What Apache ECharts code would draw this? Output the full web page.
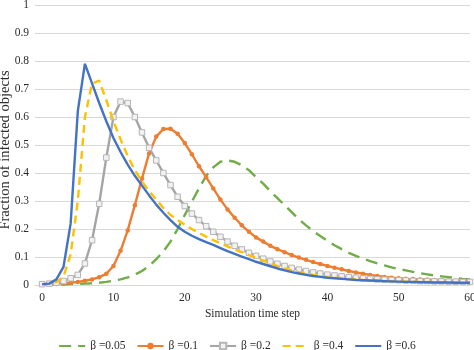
<!DOCTYPE html>
<html>
<head>
<meta charset="utf-8">
<script src="https://cdn.jsdelivr.net/npm/echarts@6/dist/echarts.min.js"></script>
<style>
html,body{margin:0;padding:0;background:#fff;}
#chart{width:474px;height:350px;}
</style>
</head>
<body>
<div id="chart"></div>
<script>
// Fraction of infected objects per simulation time step (0..60)
const seriesNames = ["β =0.05", "β =0.1", "β =0.2", "β =0.4", "β =0.6"];
const xTicks = [0, 10, 20, 30, 40, 50, 60];
const yTicks = [0, 0.1, 0.2, 0.3, 0.4, 0.5, 0.6, 0.7, 0.8, 0.9, 1];

const beta005 = [0.001,0.001,0.002,0.002,0.003,0.004,0.005,0.006,0.008,0.011,
  0.015,0.02,0.027,0.037,0.05,0.068,0.092,0.12,0.155,0.2,
  0.25,0.298,0.345,0.39,0.42,0.44,0.445,0.44,0.428,0.41,
  0.385,0.362,0.335,0.31,0.285,0.26,0.235,0.213,0.193,0.175,
  0.158,0.142,0.128,0.115,0.104,0.094,0.085,0.077,0.07,0.063,
  0.057,0.052,0.047,0.042,0.038,0.034,0.031,0.028,0.025,0.022,0.02];

const beta01 = [0.002,0.003,0.004,0.006,0.008,0.011,0.015,0.02,0.028,0.04,
  0.068,0.122,0.195,0.285,0.38,0.47,0.53,0.557,0.558,0.54,
  0.507,0.467,0.424,0.385,0.345,0.305,0.27,0.24,0.213,0.19,
  0.17,0.155,0.14,0.128,0.117,0.107,0.098,0.09,0.082,0.075,
  0.068,0.062,0.056,0.05,0.045,0.04,0.036,0.032,0.029,0.026,
  0.024,0.022,0.021,0.02,0.019,0.018,0.017,0.016,0.015,0.014,0.014];

const beta02 = [0.003,0.005,0.008,0.014,0.024,0.036,0.077,0.16,0.29,0.455,
  0.6,0.655,0.65,0.6,0.545,0.49,0.445,0.4,0.357,0.315,
  0.282,0.255,0.232,0.21,0.19,0.172,0.155,0.14,0.127,0.115,
  0.104,0.094,0.084,0.076,0.068,0.061,0.055,0.05,0.045,0.041,
  0.037,0.034,0.031,0.028,0.026,0.024,0.022,0.02,0.019,0.018,
  0.017,0.016,0.015,0.014,0.014,0.013,0.013,0.012,0.012,0.011,0.011];

const beta04 = [0.002,0.004,0.01,0.03,0.11,0.3,0.6,0.72,0.73,0.66,
  0.585,0.52,0.46,0.41,0.37,0.335,0.305,0.275,0.25,0.232,
  0.215,0.2,0.186,0.173,0.16,0.149,0.138,0.127,0.117,0.107,
  0.097,0.087,0.077,0.067,0.059,0.052,0.046,0.041,0.036,0.032,
  0.029,0.026,0.024,0.022,0.02,0.018,0.017,0.016,0.015,0.014,
  0.013,0.012,0.012,0.011,0.011,0.01,0.01,0.01,0.009,0.009,0.009];

const beta06 = [0.003,0.005,0.02,0.065,0.22,0.62,0.79,0.72,0.65,0.585,
  0.525,0.475,0.43,0.39,0.355,0.32,0.287,0.258,0.232,0.208,
  0.19,0.176,0.164,0.153,0.143,0.132,0.121,0.111,0.101,0.092,
  0.083,0.075,0.067,0.059,0.052,0.046,0.041,0.036,0.032,0.029,
  0.026,0.024,0.022,0.02,0.018,0.017,0.016,0.015,0.014,0.013,
  0.012,0.011,0.011,0.01,0.01,0.009,0.009,0.009,0.008,0.008,0.008];

const toPairs = arr => arr.map((v, i) => [i, v]);

const FONT = "Liberation Serif";
const TXT = "#2b2b2b";
const FS = 11.5;
const noMarker = {color: 'rgba(0,0,0,0)', borderWidth: 0};

const chart = echarts.init(document.getElementById('chart'), null, {renderer: 'canvas'});
chart.setOption({
  animation: false,
  backgroundColor: '#fff',
  grid: {left: 35, right: 4, top: 5, bottom: 65, outerBoundsMode: 'none', containLabel: false},
  legend: {
    top: 335,
    left: 'center',
    itemGap: 11,
    itemWidth: 26,
    itemHeight: 8,
    textStyle: {fontFamily: FONT, fontSize: FS, color: TXT},
    data: [
      {name: seriesNames[0], itemStyle: noMarker},
      {name: seriesNames[1]},
      {name: seriesNames[2]},
      {name: seriesNames[3], itemStyle: noMarker},
      {name: seriesNames[4], itemStyle: noMarker}
    ]
  },
  xAxis: {
    type: 'value',
    min: -1, max: xTicks[xTicks.length - 1],
    name: 'Simulation time step',
    nameLocation: 'middle',
    nameGap: 23,
    nameMoveOverlap: false,
    nameTextStyle: {fontFamily: FONT, fontSize: FS, color: TXT},
    axisLine: {show: true, lineStyle: {color: '#D9D9D9', width: 1}},
    axisTick: {show: false},
    splitLine: {show: false},
    axisLabel: {fontFamily: FONT, fontSize: FS, color: TXT, margin: 7,
      customValues: xTicks, showMinLabel: true, showMaxLabel: true}
  },
  yAxis: {
    type: 'value',
    min: yTicks[0], max: yTicks[yTicks.length - 1], interval: 0.1,
    name: 'Fraction of infected objects',
    nameLocation: 'middle',
    nameGap: 22,
    nameMoveOverlap: false,
    nameTextStyle: {fontFamily: FONT, fontSize: 14.5, color: TXT, padding: [0, 10, 0, 0]},
    axisLine: {show: false},
    axisTick: {show: false},
    splitLine: {lineStyle: {color: '#D9D9D9', width: 1}},
    axisLabel: {fontFamily: FONT, fontSize: FS, color: TXT, margin: 6,
      formatter: v => String(Math.round(v * 10) / 10)}
  },
  series: [
    {name: seriesNames[0], type: 'line', data: toPairs(beta005), showSymbol: false, symbol: 'none',
     lineStyle: {color: '#70AD47', width: 2.4, type: [12, 7]}, itemStyle: {color: '#70AD47'}, z: 2},
    {name: seriesNames[1], type: 'line', data: toPairs(beta01), symbol: 'circle', symbolSize: 4.5,
     lineStyle: {color: '#ED7D31', width: 2.4}, itemStyle: {color: '#ED7D31'}, z: 3},
    {name: seriesNames[2], type: 'line', data: toPairs(beta02), symbol: 'rect', symbolSize: 5.5,
     lineStyle: {color: '#A5A5A5', width: 2.4},
     itemStyle: {color: '#F2F2F2', borderColor: '#B5B5B5', borderWidth: 1}, z: 4},
    {name: seriesNames[3], type: 'line', data: toPairs(beta04), showSymbol: false, symbol: 'none',
     lineStyle: {color: '#FFC000', width: 2.4, type: [8, 5]}, itemStyle: {color: '#FFC000'}, z: 5},
    {name: seriesNames[4], type: 'line', data: toPairs(beta06), showSymbol: false, symbol: 'none',
     lineStyle: {color: '#4472C4', width: 2.4}, itemStyle: {color: '#4472C4'}, z: 6}
  ]
});
</script>
</body>
</html>
